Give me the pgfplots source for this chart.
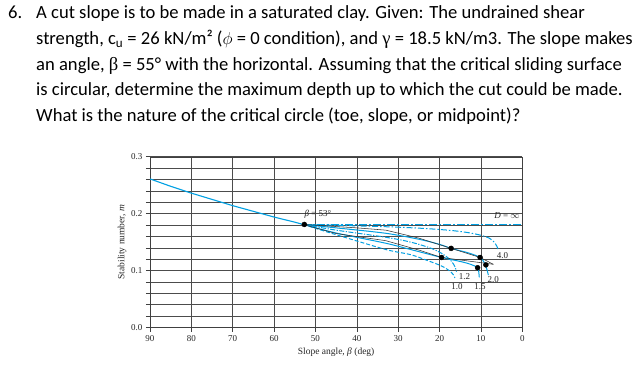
\documentclass[border=0pt]{standalone}
\usepackage{fontspec}
\setmainfont{Carlito}
\newfontfamily\tnr{Liberation Serif}
\usepackage{pgfplots}
\pgfplotsset{compat=1.18}
\definecolor{cblue}{RGB}{0,160,227}
\begin{document}
\begin{tikzpicture}[x=1pt,y=1pt]
\useasboundingbox (0,0) rectangle (642,-366);
\fill[white] (0,0) rectangle (642,-366);
\begin{scope}[font=\fontsize{18.6}{22}\selectfont, every node/.style={inner sep=0pt, anchor=base west}]
\node at (8,-19) {6.};
\node at (36,-19) {A cut slope is to be made in a saturated clay. Given: The undrained shear};
\node at (36,-44.6) {strength, c\textsubscript{u} = 26 kN/m² ($\phi$ = 0 condition), and {\tnr γ} = 18.5 kN/m3. The slope makes};
\node at (36,-70.2) {an angle, {\tnr β} = 55° with the horizontal. Assuming that the critical sliding surface};
\node at (36,-95.8) {is circular, determine the maximum depth up to which the cut could be made.};
\node at (36,-121.4) {What is the nature of the critical circle (toe, slope, or midpoint)?};
\end{scope}
\begin{axis}[at={(150pt,-327.5pt)}, anchor=south west, scale only axis,
  width=372.3pt, height=170.8pt, x dir=reverse,
  xmin=0, xmax=90, ymin=0, ymax=0.3,
  xtick={0,10,...,90}, ytick={0,0.1,0.2,0.3},
  minor ytick={0.02,0.04,0.06,0.08,0.12,0.14,0.16,0.18,0.22,0.24,0.26,0.28},
  grid=both, grid style={black!70, line width=0.55pt},
  minor grid style={black!70, line width=0.55pt},
  axis line style={black!75},
  tick align=outside, major tick length=4pt, minor tick length=4pt,
  tick style={black!75, line width=0.55pt},
  xtick pos=left, ytick pos=left,
  ticklabel style={font=\tnr\fontsize{9}{10}\selectfont, text=black!85},
  /pgf/number format/assume math mode=true,
  yticklabel style={/pgf/number format/.cd, fixed, fixed zerofill, precision=1},
  label style={font=\tnr\fontsize{9.5}{11}\selectfont, text=black!85},
  xlabel={Slope angle, {\itshape β} (deg)},
  ylabel={Stability number, {\itshape m}},
  ylabel style={yshift=-2pt},
  clip=false]
% main curve
\addplot[cblue, line width=1.1pt] coordinates {(90,0.261)(85,0.248)(80,0.236)(75,0.225)(70,0.214)(65,0.204)(60,0.194)(55,0.185)(53,0.181)};
% D = infinity
\addplot[cblue, line width=1.7pt, dash pattern=on 8pt off 2pt on 2pt off 2pt] coordinates {(53,0.181)(0,0.181)};
% D = 4.0
\addplot[cblue, line width=1pt, dash pattern=on 6pt off 2pt on 1.5pt off 2pt, smooth] coordinates {(53,0.181)(45,0.1795)(33,0.177)(25,0.1745)(18,0.171)(13.4,0.167)(10,0.162)(8,0.157)(6.8,0.150)(6.1,0.142)(5.8,0.136)};
% D = 2.0
\addplot[cblue, line width=1pt, smooth] coordinates {(53,0.181)(45,0.175)(33,0.1655)(25,0.155)(20,0.146)(17.2,0.139)(13,0.131)(10.2,0.123)(9.2,0.114)(8.6,0.103)(8.2,0.092)};
% D = 1.2
\addplot[cblue, line width=1pt, dash pattern=on 5pt off 1.5pt on 1.2pt off 1.5pt, smooth] coordinates {(53,0.181)(45,0.171)(33,0.1585)(27,0.150)(22,0.139)(19,0.128)(17.2,0.117)(16.3,0.107)(15.9,0.098)};
% D = 1.5
\addplot[cblue, line width=1pt, smooth] coordinates {(53,0.181)(45,0.166)(33,0.148)(27,0.137)(19.5,0.123)(15,0.116)(12.5,0.111)(10.8,0.105)(10.5,0.096)(10.4,0.088)};
% D = 1.0
\addplot[cblue, line width=1pt, dash pattern=on 4pt off 2pt, smooth] coordinates {(53,0.181)(45,0.163)(33,0.137)(27,0.128)(22.7,0.117)(19.5,0.108)(17.5,0.099)(16.6,0.092)(16.3,0.087)};
% black boundary lines
\addplot[black!80, line width=0.55pt] coordinates {(53,0.181)(40,0.175)(33,0.171)(25,0.157)(17.2,0.139)(10.2,0.123)(7.0,0.111)};
\addplot[black!80, line width=0.55pt] coordinates {(53,0.181)(45,0.165)(33,0.1525)(25,0.136)(19.5,0.123)(8.8,0.1127)(7.0,0.111)};
% critical points
\addplot[only marks, mark=*, mark size=2.5pt, black] coordinates {(52.7,0.181)(17.2,0.139)(19.5,0.123)(10.2,0.123)(10.8,0.105)(8.8,0.110)};
% labels
\begin{scope}[font=\tnr\fontsize{9}{10}\selectfont, text=black!85]
\node at (axis cs:49.4,0.1995) {{\itshape β} = 53°};
\node at (axis cs:3.7,0.196) {{\itshape D} = $\infty$};
\node at (axis cs:4.8,0.127) {4.0};
\node at (axis cs:7.0,0.084) {2.0};
\node at (axis cs:10.2,0.0726) {1.5};
\node at (axis cs:14.0,0.0893) {1.2};
\node at (axis cs:15.8,0.0716) {1.0};
\end{scope}
\end{axis}
\end{tikzpicture}
\end{document}
